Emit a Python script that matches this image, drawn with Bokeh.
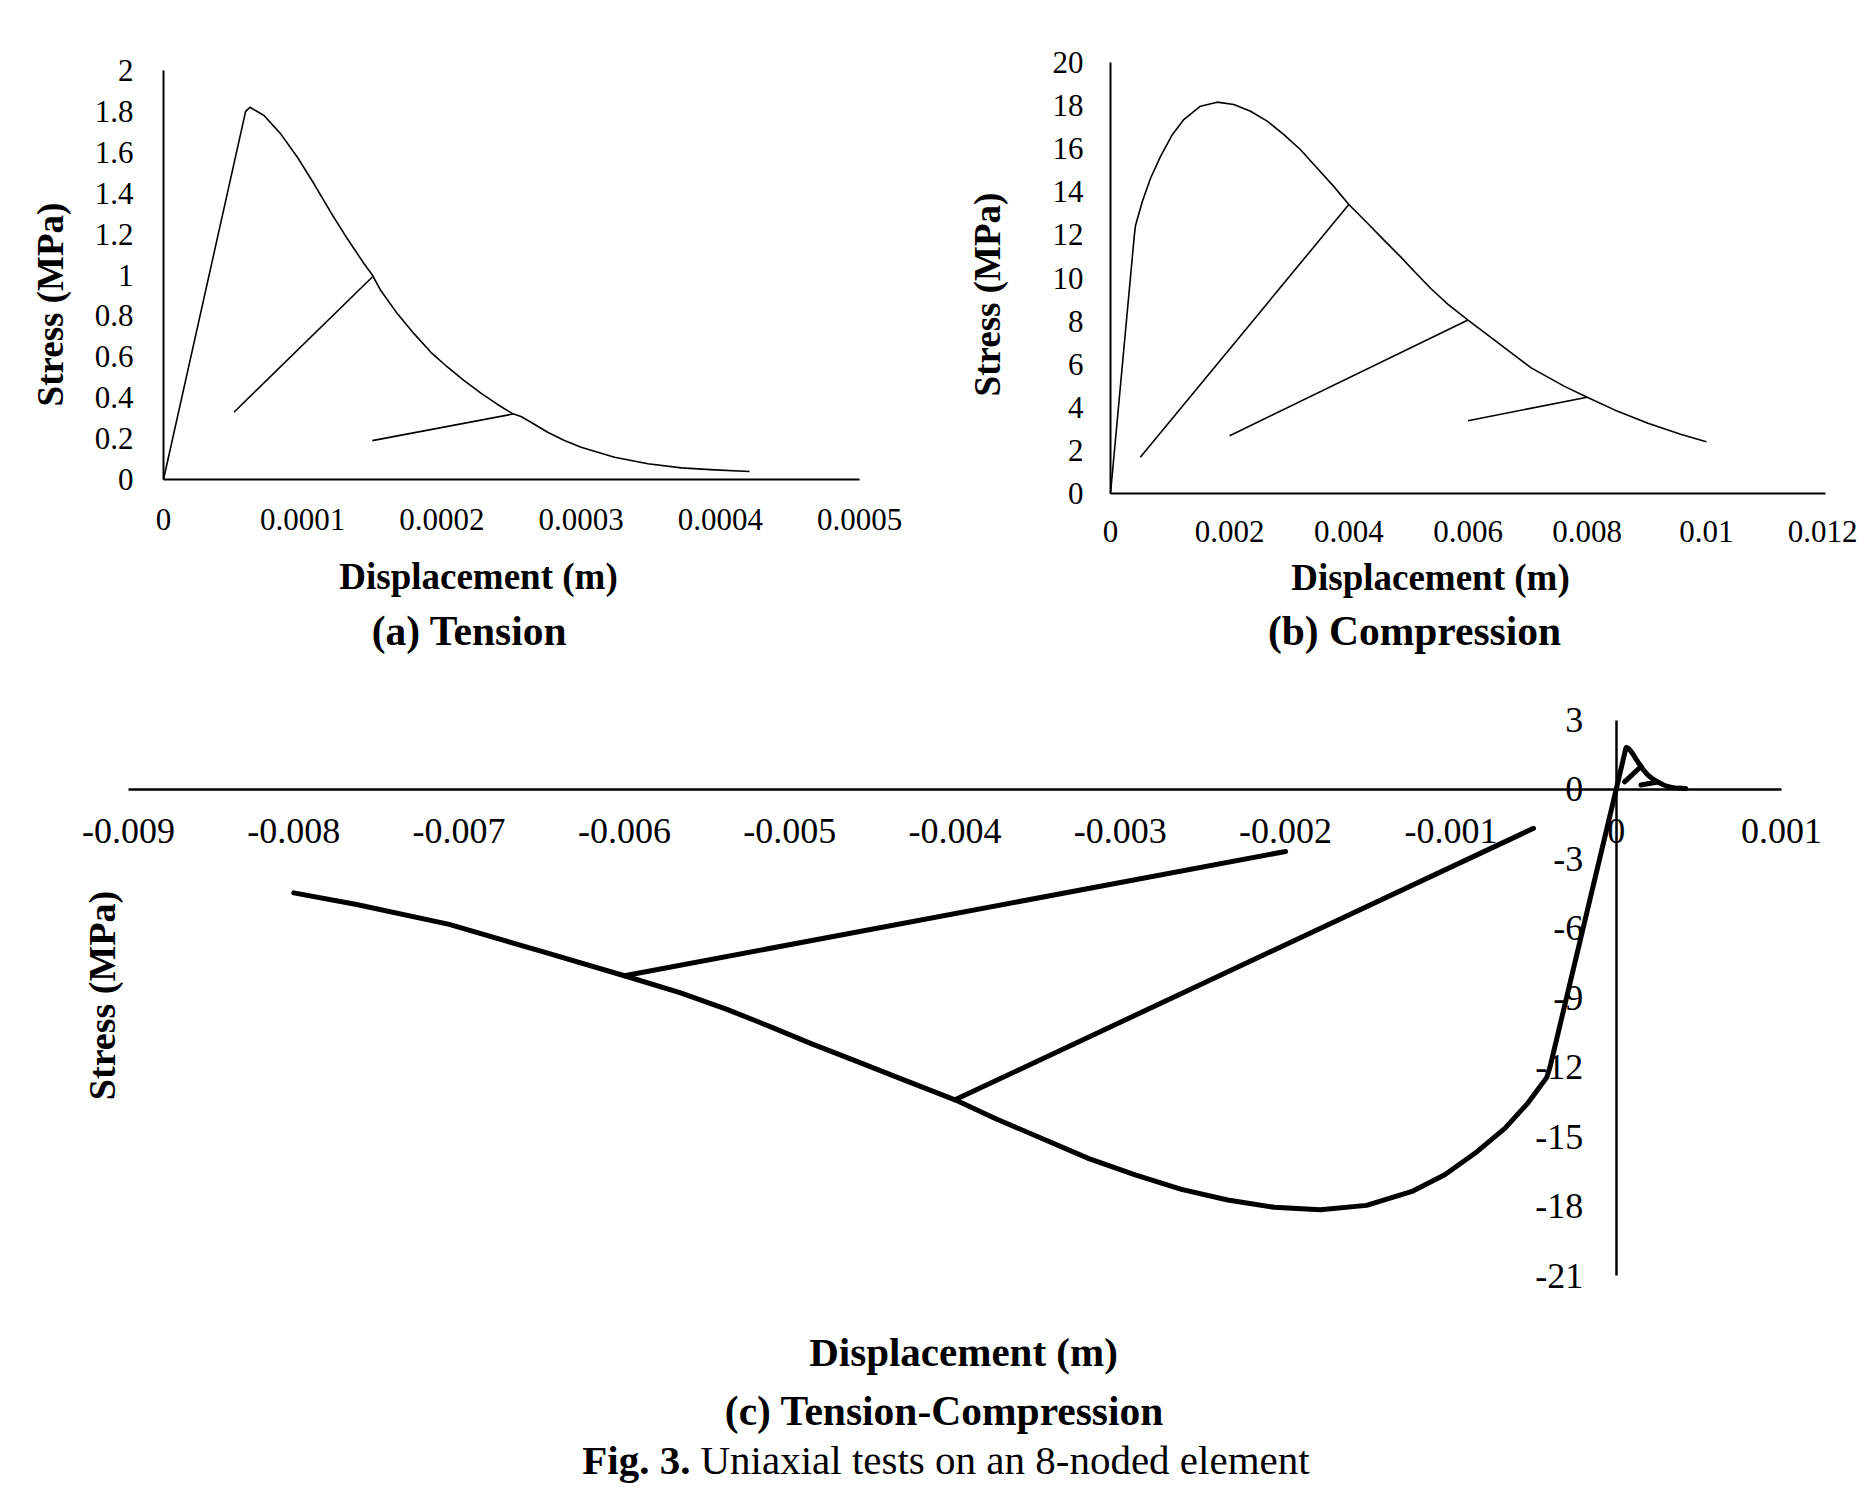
import math
from bokeh.plotting import figure
from bokeh.models import Range1d, FixedTicker, Label
from bokeh.layouts import column, row
from bokeh.embed import file_html
from bokeh.resources import INLINE

# ---------------- data ----------------
# (a) Tension: envelope and unloading branches
tension_disp = [0, 0.000059, 0.0000621, 0.0000722, 0.0000842, 0.0000962, 0.0001081,
                0.0001201, 0.0001321, 0.0001441, 0.00015, 0.0001561, 0.0001681,
                0.0001801, 0.0001921, 0.0002041, 0.000216, 0.000228, 0.00024,
                0.000251, 0.0002568, 0.000264, 0.000276, 0.000288, 0.0003,
                0.000324, 0.000348, 0.000372, 0.000396, 0.000421]
tension_stress = [0, 1.80, 1.82, 1.78, 1.69, 1.576, 1.446,
                  1.307, 1.177, 1.055, 1.0, 0.924, 0.81,
                  0.712, 0.622, 0.549, 0.484, 0.422, 0.367,
                  0.321, 0.308, 0.28, 0.231, 0.191, 0.158,
                  0.109, 0.077, 0.057, 0.047, 0.039]
tension_unload1_disp = [0.00015, 0.0000506]
tension_unload1_stress = [0.99, 0.329]
tension_unload2_disp = [0.000251, 0.00015]
tension_unload2_stress = [0.32, 0.19]

# (b) Compression: envelope and unloading branches
comp_disp = [0, 0.0004, 0.00042, 0.000533, 0.000672, 0.00084, 0.001037, 0.00123,
             0.00151, 0.00179, 0.00207, 0.00235, 0.00263, 0.00291, 0.00319,
             0.00347, 0.00375, 0.004, 0.00431, 0.00459, 0.00487, 0.0051,
             0.00538, 0.00566, 0.006, 0.0065, 0.00706, 0.00762, 0.008,
             0.00846, 0.00902, 0.00958, 0.01]
comp_stress = [0, 11.98, 12.44, 13.54, 14.63, 15.64, 16.65, 17.35,
               17.97, 18.16, 18.05, 17.74, 17.28, 16.65, 15.95,
               15.09, 14.24, 13.41, 12.55, 11.76, 10.98, 10.3,
               9.5, 8.79, 8.05, 7.0, 5.83, 4.97, 4.47,
               3.88, 3.26, 2.74, 2.40]
comp_unload1_disp = [0.004, 0.0005]
comp_unload1_stress = [13.41, 1.68]
comp_unload2_disp = [0.006, 0.002]
comp_unload2_stress = [8.05, 2.68]
comp_unload3_disp = [0.008, 0.006]
comp_unload3_stress = [4.47, 3.38]

# (c) Tension-Compression: compression part runs up to 0.008 m
tc_comp_limit = 0.008

# tick values and labels
a_xticks = [0, 0.0001, 0.0002, 0.0003, 0.0004, 0.0005]
a_xlabels = ["0", "0.0001", "0.0002", "0.0003", "0.0004", "0.0005"]
a_yticks = [0, 0.2, 0.4, 0.6, 0.8, 1, 1.2, 1.4, 1.6, 1.8, 2]
a_ylabels = ["0", "0.2", "0.4", "0.6", "0.8", "1", "1.2", "1.4", "1.6", "1.8", "2"]
b_xticks = [0, 0.002, 0.004, 0.006, 0.008, 0.01, 0.012]
b_xlabels = ["0", "0.002", "0.004", "0.006", "0.008", "0.01", "0.012"]
b_yticks = [0, 2, 4, 6, 8, 10, 12, 14, 16, 18, 20]
b_ylabels = ["0", "2", "4", "6", "8", "10", "12", "14", "16", "18", "20"]
c_xticks = [-0.009, -0.008, -0.007, -0.006, -0.005, -0.004, -0.003, -0.002, -0.001, 0, 0.001]
c_xlabels = ["-0.009", "-0.008", "-0.007", "-0.006", "-0.005", "-0.004", "-0.003",
             "-0.002", "-0.001", "0", "0.001"]
c_yticks = [-21, -18, -15, -12, -9, -6, -3, 0, 3]
c_ylabels = ["-21", "-18", "-15", "-12", "-9", "-6", "-3", "0", "3"]

FONT = "Liberation Serif"


def span(d0, d1, p0, p1, total):
    """Extend a data interval [d0, d1] that should occupy pixels [p0, p1]
    (measured from left/bottom) so that the frame fills the whole canvas."""
    k = (d1 - d0) / (p1 - p0)
    return d0 - p0 * k, d1 + (total - p1) * k


def make_fig(W, H, xd, yd, xpx, ypx):
    # xpx: (left px, right px); ypx: (bottom px, top px) measured from the bottom
    p = figure(width=W, height=H,
               x_range=Range1d(*span(xd[0], xd[1], xpx[0], xpx[1], W)),
               y_range=Range1d(*span(yd[0], yd[1], ypx[0], ypx[1], H)),
               output_backend="svg", toolbar_location=None,
               min_border=0, min_border_left=0, min_border_right=0,
               min_border_top=0, min_border_bottom=0)
    p.grid.visible = False
    p.outline_line_color = None
    p.background_fill_color = "white"
    p.border_fill_color = "white"
    p.xaxis.fixed_location = 0
    p.yaxis.fixed_location = 0
    p.xaxis.bounds = (xd[0], xd[1])
    p.yaxis.bounds = (yd[0], yd[1])
    return p


def style_axes(p, xticks, xlabels, yticks, ylabels, size, lw, xstand, ystand):
    p.xaxis.ticker = FixedTicker(ticks=xticks)
    p.xaxis.major_label_overrides = dict(zip(xticks, xlabels))
    p.yaxis.ticker = FixedTicker(ticks=yticks)
    p.yaxis.major_label_overrides = dict(zip(yticks, ylabels))
    for ax in p.axis:
        ax.major_tick_line_color = None
        ax.minor_tick_line_color = None
        ax.major_tick_in = 0
        ax.major_tick_out = 0
        ax.minor_tick_in = 0
        ax.minor_tick_out = 0
        ax.axis_line_color = "black"
        ax.axis_line_width = lw
        ax.major_label_text_font = FONT
        ax.major_label_text_font_size = size
        ax.major_label_text_color = "black"
    p.xaxis.major_label_standoff = xstand
    p.yaxis.major_label_standoff = ystand


def add_text(p, text, x, y, size, bold=True, angle=0.0, align="center"):
    p.add_layout(Label(x=x, y=y, x_units="screen", y_units="screen", text=text,
                       text_font=FONT, text_font_size=size,
                       text_font_style="bold" if bold else "normal",
                       text_color="black", text_align=align,
                       text_baseline="middle", angle=angle))


# ---------------- (a) Tension ----------------
pa = make_fig(930, 680, (0, 0.0005), (0, 2), (163, 859), (680 - 479, 680 - 70))
style_axes(pa, a_xticks, a_xlabels, a_yticks, a_ylabels, "31px", 2, 29, 30)
for xs, ys in [(tension_disp, tension_stress),
               (tension_unload1_disp, tension_unload1_stress),
               (tension_unload2_disp, tension_unload2_stress)]:
    pa.line(xs, ys, line_color="black", line_width=1.6, line_join="round")
add_text(pa, "Displacement (m)", 478, 104, "37px")
add_text(pa, "(a) Tension", 469, 50, "41.5px")
add_text(pa, "Stress (MPa)", 50, 376, "37px", angle=math.pi / 2)

# ---------------- (b) Compression ----------------
pb = make_fig(927, 680, (0, 0.012), (0, 20), (180, 895), (680 - 493, 680 - 62))
style_axes(pb, b_xticks, b_xlabels, b_yticks, b_ylabels, "31px", 2, 27, 27)
for xs, ys in [(comp_disp, comp_stress),
               (comp_unload1_disp, comp_unload1_stress),
               (comp_unload2_disp, comp_unload2_stress),
               (comp_unload3_disp, comp_unload3_stress)]:
    pb.line(xs, ys, line_color="black", line_width=1.6, line_join="round")
add_text(pb, "Displacement (m)", 500, 103, "37px")
add_text(pb, "(b) Compression", 484, 50, "41.5px")
add_text(pb, "Stress (MPa)", 57, 386, "37px", angle=math.pi / 2)

# ---------------- (c) Tension-Compression ----------------
pc = make_fig(1857, 810, (-0.009, 0.001), (-21, 3), (128, 1781), (810 - 595, 810 - 39.5))
style_axes(pc, c_xticks, c_xlabels, c_yticks, c_ylabels, "36px", 2.5, 30, 33)
tc_x = [-d for d in comp_disp if d <= tc_comp_limit]
tc_y = [-s for d, s in zip(comp_disp, comp_stress) if d <= tc_comp_limit]
curves_c = [
    (tc_x, tc_y),
    ([-d for d in comp_unload1_disp], [-s for s in comp_unload1_stress]),
    ([-d for d in comp_unload2_disp], [-s for s in comp_unload2_stress]),
    (tension_disp, tension_stress),
    (tension_unload1_disp, tension_unload1_stress),
    (tension_unload2_disp, tension_unload2_stress),
]
for xs, ys in curves_c:
    pc.line(xs, ys, line_color="black", line_width=5, line_join="round", line_cap="round")
add_text(pc, "Stress (MPa)", 101, 495, "38px", angle=math.pi / 2)
add_text(pc, "Displacement (m)", 963, 139, "41px")
add_text(pc, "(c) Tension-Compression", 944, 80, "41.5px")
add_text(pc, "Fig. 3.", 690, 31, "41px", align="right")
add_text(pc, "Uniaxial tests on an 8-noded element", 700, 31, "41px", bold=False, align="left")

layout = column(row(pa, pb), pc)
open("out.html", "w").write(file_html(layout, INLINE))
